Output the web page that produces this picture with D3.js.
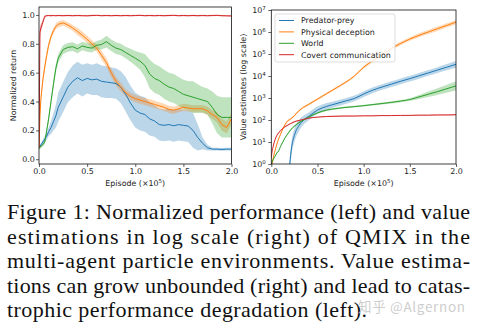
<!DOCTYPE html>
<html><head><meta charset="utf-8">
<script src="https://cdn.jsdelivr.net/npm/d3@7"></script>
<style>body{margin:0;background:#fff;}svg{display:block;}</style>
</head><body>
<script>
// ---------- DATA ----------
const seriesNames = ["Predator-prey", "Physical deception", "World", "Covert communication"];
const seriesColors = ["#1f77b4", "#ff7f0e", "#2ca02c", "#d62728"];

// Left panel: normalized return
const episodesL = [0,0.01,0.02,0.04,0.06,0.08,0.1,0.125,0.15,0.175,0.2,0.25,0.3,0.35,0.4,0.45,0.5,0.55,0.6,0.65,0.7,0.75,0.8,0.85,0.9,0.95,1.0,1.05,1.1,1.15,1.2,1.25,1.3,1.35,1.4,1.45,1.5,1.55,1.6,1.65,1.7,1.75,1.8,1.85,1.9,1.95,2.0];
const returnPredator = [0.08,0.09,0.10,0.12,0.14,0.16,0.19,0.22,0.26,0.30,0.36,0.43,0.50,0.54,0.565,0.545,0.56,0.55,0.555,0.54,0.535,0.53,0.525,0.50,0.45,0.39,0.34,0.32,0.31,0.28,0.265,0.24,0.235,0.24,0.232,0.24,0.235,0.23,0.20,0.15,0.11,0.08,0.07,0.07,0.068,0.07,0.07];
const spreadPredator = [0.01,0.01,0.01,0.015,0.02,0.025,0.03,0.045,0.06,0.08,0.10,0.105,0.105,0.11,0.11,0.11,0.105,0.105,0.11,0.11,0.11,0.105,0.105,0.11,0.12,0.12,0.12,0.12,0.12,0.115,0.11,0.11,0.11,0.11,0.11,0.11,0.11,0.11,0.12,0.09,0.04,0.02,0.01,0.01,0.01,0.01,0.01];
const returnDeception = [0.08,0.30,0.42,0.55,0.64,0.72,0.79,0.85,0.89,0.92,0.935,0.945,0.93,0.91,0.885,0.86,0.83,0.80,0.77,0.72,0.67,0.60,0.54,0.50,0.46,0.435,0.42,0.41,0.40,0.39,0.38,0.37,0.36,0.345,0.34,0.35,0.36,0.355,0.35,0.35,0.35,0.335,0.31,0.29,0.24,0.22,0.28];
const spreadDeception = [0.01,0.03,0.03,0.03,0.03,0.03,0.025,0.02,0.02,0.02,0.02,0.02,0.02,0.02,0.025,0.025,0.025,0.025,0.025,0.03,0.03,0.03,0.03,0.03,0.025,0.025,0.025,0.025,0.025,0.025,0.025,0.025,0.025,0.025,0.025,0.025,0.025,0.025,0.025,0.025,0.025,0.03,0.03,0.035,0.04,0.04,0.04];
const returnWorld = [0.08,0.08,0.09,0.10,0.12,0.20,0.28,0.40,0.52,0.63,0.70,0.76,0.775,0.78,0.765,0.785,0.775,0.77,0.79,0.795,0.815,0.79,0.77,0.76,0.74,0.72,0.70,0.68,0.65,0.59,0.56,0.545,0.52,0.50,0.49,0.47,0.45,0.44,0.43,0.42,0.41,0.40,0.36,0.31,0.29,0.29,0.29];
const spreadWorld = [0.01,0.01,0.01,0.01,0.015,0.02,0.03,0.03,0.03,0.03,0.03,0.03,0.03,0.03,0.03,0.03,0.03,0.03,0.03,0.035,0.04,0.04,0.04,0.04,0.04,0.045,0.05,0.06,0.08,0.10,0.10,0.10,0.10,0.10,0.10,0.10,0.10,0.10,0.11,0.10,0.09,0.09,0.11,0.13,0.14,0.14,0.14];
const returnCovert = [0.08,0.88,0.91,0.95,0.99,0.995,0.996,0.995,0.996,0.995,0.996,0.995,0.996,0.995,0.996,0.995,0.994,0.996,0.997,0.995,0.996,0.995,0.996,0.995,0.996,0.995,0.996,0.997,0.995,0.996,0.995,0.996,0.995,0.996,0.997,0.995,0.996,0.995,0.996,0.995,0.996,0.995,0.996,0.997,0.995,0.994,0.993];
const spreadCovert = [0.01,0.04,0.03,0.02,0.01,0.005,0.005,0.005,0.005,0.005,0.005,0.005,0.005,0.005,0.005,0.005,0.005,0.005,0.005,0.005,0.005,0.005,0.005,0.005,0.005,0.005,0.005,0.005,0.005,0.005,0.005,0.005,0.005,0.005,0.005,0.005,0.005,0.005,0.005,0.005,0.005,0.005,0.005,0.005,0.005,0.005,0.005];

// Right panel: value estimates, stored as log10 exponents
const episodesR = [0,0.01,0.02,0.04,0.06,0.08,0.1,0.125,0.15,0.175,0.2,0.21,0.22,0.25,0.3,0.35,0.4,0.5,0.6,0.7,0.8,0.9,1.0,1.1,1.2,1.3,1.4,1.5,1.6,1.7,1.8,1.9,2.0];
const logValPredator = [null,null,null,null,null,null,null,null,null,null,0.0,0.4,0.75,1.3,1.75,2.0,2.15,2.45,2.62,2.74,2.86,2.98,3.18,3.36,3.5,3.63,3.76,3.88,4.01,4.14,4.27,4.4,4.53];
const logSpreadPredator = [0,0,0,0,0,0,0,0,0,0,0.3,0.3,0.3,0.3,0.25,0.2,0.18,0.16,0.15,0.14,0.13,0.13,0.13,0.13,0.13,0.13,0.13,0.13,0.13,0.13,0.13,0.14,0.15];
const logValDeception = [null,0.0,0.25,0.6,0.9,1.15,1.35,1.6,1.8,1.95,2.02,2.05,2.08,2.2,2.42,2.58,2.7,2.95,3.2,3.45,3.7,4.0,4.4,4.7,4.98,5.25,5.48,5.68,5.85,6.0,6.15,6.3,6.45];
const logSpreadDeception = [0,0.05,0.05,0.05,0.05,0.05,0.05,0.05,0.05,0.05,0.05,0.05,0.05,0.05,0.05,0.05,0.05,0.05,0.05,0.05,0.05,0.05,0.06,0.07,0.07,0.08,0.08,0.08,0.09,0.09,0.1,0.1,0.1];
const logValWorld = [0.0,0.1,0.2,0.35,0.5,0.6,0.8,1.0,1.2,1.35,1.5,1.55,1.6,1.72,1.88,2.0,2.12,2.32,2.45,2.52,2.57,2.61,2.65,2.7,2.75,2.8,2.86,2.93,3.05,3.17,3.29,3.42,3.55];
const logSpreadWorld = [0.03,0.03,0.03,0.03,0.03,0.03,0.03,0.03,0.04,0.04,0.04,0.04,0.04,0.04,0.04,0.04,0.04,0.04,0.04,0.04,0.04,0.04,0.04,0.04,0.04,0.05,0.05,0.06,0.09,0.12,0.15,0.18,0.21];
const logValCovert = [0.3,0.6,0.8,1.1,1.3,1.42,1.52,1.62,1.7,1.76,1.82,1.84,1.86,1.92,1.98,2.03,2.08,2.13,2.16,2.17,2.18,2.18,2.19,2.19,2.2,2.2,2.21,2.21,2.22,2.22,2.23,2.23,2.24];
const logSpreadCovert = [0.02,0.03,0.03,0.03,0.03,0.03,0.03,0.03,0.03,0.03,0.03,0.03,0.03,0.03,0.02,0.02,0.02,0.02,0.02,0.02,0.02,0.02,0.02,0.02,0.02,0.02,0.02,0.02,0.02,0.02,0.02,0.02,0.02];

const xTicks = [0, 0.5, 1.0, 1.5, 2.0];
const yTicksLeft = [0, 0.2, 0.4, 0.6, 0.8, 1.0];
const yTickExpRight = [0, 1, 2, 3, 4, 5, 6, 7];
const captionLines = [
  "Figure 1: Normalized performance (left) and value",
  "estimations in log scale (right) of QMIX in the",
  "multi-agent particle environments. Value estima-",
  "tions can grow unbounded (right) and lead to catas-",
  "trophic performance degradation (left)."
];
const watermark = "知乎 @Algernon";

// ---------- DRAW ----------
const W = 478, H = 329;
const svg = d3.select("body").append("svg").attr("width", W).attr("height", H);
const FONT = "DejaVu Sans";
const fs = 7.9;

// Left panel
const L = {x0: 39, x1: 231.5, y0: 7, y1: 164};
const xL = d3.scaleLinear().domain([0, 2]).range([L.x0, L.x1]);
const yL = d3.scaleLinear().domain([-0.033, 1.055]).range([L.y1, L.y0]);

const leftSeries = [
  [returnPredator, spreadPredator],
  [returnDeception, spreadDeception],
  [returnWorld, spreadWorld],
  [returnCovert, spreadCovert]
];
const gL = svg.append("g");
gL.append("defs").append("clipPath").attr("id", "clipL").append("rect")
  .attr("x", L.x0).attr("y", L.y0).attr("width", L.x1 - L.x0).attr("height", L.y1 - L.y0);
const plotL = gL.append("g").attr("clip-path", "url(#clipL)");
leftSeries.forEach(([m, s], i) => {
  const pts = episodesL.map((x, k) => ({x, m: m[k], s: s[k]}));
  plotL.append("path").datum(pts)
    .attr("d", d3.area().x(d => xL(d.x)).y0(d => yL(d.m - d.s)).y1(d => yL(d.m + d.s)))
    .attr("fill", seriesColors[i]).attr("fill-opacity", 0.3);
});
leftSeries.forEach(([m, s], i) => {
  const pts = episodesL.map((x, k) => ({x, m: m[k]}));
  plotL.append("path").datum(pts)
    .attr("d", d3.line().x(d => xL(d.x)).y(d => yL(d.m)))
    .attr("fill", "none").attr("stroke", seriesColors[i]).attr("stroke-width", 1);
});
const axL = gL.append("g").attr("transform", `translate(0,${L.y1})`)
  .call(d3.axisBottom(xL).tickValues(xTicks).tickFormat(d3.format(".1f")).tickSize(3).tickPadding(1.2));
const ayL = gL.append("g").attr("transform", `translate(${L.x0},0)`)
  .call(d3.axisLeft(yL).tickValues(yTicksLeft).tickFormat(d3.format(".1f")).tickSize(3).tickPadding(1.2));
[axL, ayL].forEach(a => {
  a.select(".domain").remove();
  a.selectAll("text").attr("font-family", FONT).attr("font-size", fs).attr("fill", "#222");
  a.selectAll("line").attr("stroke", "#222").attr("stroke-width", 0.7);
});
gL.append("rect").attr("x", L.x0).attr("y", L.y0).attr("width", L.x1 - L.x0).attr("height", L.y1 - L.y0)
  .attr("fill", "none").attr("stroke", "#111").attr("stroke-width", 0.8);
gL.append("text").attr("transform", `translate(15.5,${(L.y0 + L.y1) / 2}) rotate(-90)`)
  .attr("text-anchor", "middle").attr("font-family", FONT).attr("font-size", fs).attr("fill", "#222")
  .text("Normalized return");
const xlabL = gL.append("text").attr("x", (L.x0 + L.x1) / 2).attr("y", 186)
  .attr("text-anchor", "middle").attr("font-family", FONT).attr("font-size", fs).attr("fill", "#222");
xlabL.append("tspan").text("Episode (×10");
xlabL.append("tspan").attr("font-size", 5.5).attr("dy", -3.2).text("5");
xlabL.append("tspan").attr("dy", 3.2).text(")");

// Right panel
const R = {x0: 271.3, x1: 456, y0: 10, y1: 164};
const xR = d3.scaleLinear().domain([0, 2]).range([R.x0, R.x1]);
const yR = d3.scaleLog().domain([1, 1e7]).range([R.y1, R.y0]);
const rightSeries = [
  [logValPredator, logSpreadPredator],
  [logValDeception, logSpreadDeception],
  [logValWorld, logSpreadWorld],
  [logValCovert, logSpreadCovert]
];
const gR = svg.append("g");
gR.append("defs").append("clipPath").attr("id", "clipR").append("rect")
  .attr("x", R.x0).attr("y", R.y0).attr("width", R.x1 - R.x0).attr("height", R.y1 - R.y0);
const plotR = gR.append("g").attr("clip-path", "url(#clipR)");
const yv = e => yR(Math.pow(10, e));
rightSeries.forEach(([m, s], i) => {
  const pts = episodesR.map((x, k) => ({x, m: m[k], s: s[k]})).filter(d => d.m !== null);
  plotR.append("path").datum(pts)
    .attr("d", d3.area().curve(d3.curveMonotoneX).x(d => xR(d.x)).y0(d => yv(d.m - d.s)).y1(d => yv(d.m + d.s)))
    .attr("fill", seriesColors[i]).attr("fill-opacity", 0.3);
});
rightSeries.forEach(([m, s], i) => {
  const pts = episodesR.map((x, k) => ({x, m: m[k]})).filter(d => d.m !== null);
  plotR.append("path").datum(pts)
    .attr("d", d3.line().curve(d3.curveMonotoneX).x(d => xR(d.x)).y(d => yv(d.m)))
    .attr("fill", "none").attr("stroke", seriesColors[i]).attr("stroke-width", 1);
});
const axR = gR.append("g").attr("transform", `translate(0,${R.y1})`)
  .call(d3.axisBottom(xR).tickValues(xTicks).tickFormat(d3.format(".1f")).tickSize(3).tickPadding(1.2));
const ayR = gR.append("g").attr("transform", `translate(${R.x0},0)`)
  .call(d3.axisLeft(yR).tickValues(yTickExpRight.map(e => Math.pow(10, e))).tickFormat(() => "").tickSize(3));
[axR, ayR].forEach(a => {
  a.select(".domain").remove();
  a.selectAll("text").attr("font-family", FONT).attr("font-size", fs).attr("fill", "#222");
  a.selectAll("line").attr("stroke", "#222").attr("stroke-width", 0.7);
});
yTickExpRight.forEach(e => {
  const t = gR.append("text").attr("x", R.x0 - 5.5).attr("y", yR(Math.pow(10, e)) + 3)
    .attr("text-anchor", "end").attr("font-family", FONT).attr("font-size", fs).attr("fill", "#222");
  t.append("tspan").text("10");
  t.append("tspan").attr("font-size", 5.5).attr("dy", -3.4).text(String(e));
});
gR.append("rect").attr("x", R.x0).attr("y", R.y0).attr("width", R.x1 - R.x0).attr("height", R.y1 - R.y0)
  .attr("fill", "none").attr("stroke", "#111").attr("stroke-width", 0.8);
gR.append("text").attr("transform", `translate(246,${(R.y0 + R.y1) / 2}) rotate(-90)`)
  .attr("text-anchor", "middle").attr("font-family", FONT).attr("font-size", fs).attr("fill", "#222")
  .text("Value estimates (log scale)");
const xlabR = gR.append("text").attr("x", (R.x0 + R.x1) / 2).attr("y", 186)
  .attr("text-anchor", "middle").attr("font-family", FONT).attr("font-size", fs).attr("fill", "#222");
xlabR.append("tspan").text("Episode (×10");
xlabR.append("tspan").attr("font-size", 5.5).attr("dy", -3.2).text("5");
xlabR.append("tspan").attr("dy", 3.2).text(")");

// Legend
const leg = gR.append("g");
leg.append("rect").attr("x", 275).attr("y", 14).attr("width", 120).attr("height", 48).attr("rx", 2)
  .attr("fill", "#fff").attr("fill-opacity", 0.85).attr("stroke", "#d0d0d0").attr("stroke-width", 0.7);
seriesNames.forEach((n, i) => {
  const y = 20.5 + i * 11.4;
  leg.append("line").attr("x1", 279).attr("x2", 294).attr("y1", y).attr("y2", y)
    .attr("stroke", seriesColors[i]).attr("stroke-width", 1);
  leg.append("text").attr("x", 301).attr("y", y + 2.8).attr("font-family", FONT).attr("font-size", fs)
    .attr("fill", "#222").text(n);
});

// Caption
const capY = [219, 243.5, 268, 292.5, 317];
captionLines.forEach((line, i) => {
  const t = svg.append("text").attr("x", 7).attr("y", capY[i])
    .style("font-family", `"Liberation Serif", "Times New Roman", serif`)
    .attr("font-size", 22).attr("fill", "#111").text(line);
  t.attr("textLength", i < captionLines.length - 1 ? 463 : 360).attr("lengthAdjust", "spacing");
});
svg.append("text").attr("x", 358).attr("y", 312).attr("font-family", "Noto Sans CJK SC")
  .attr("font-size", 13.5).attr("fill", "#c4c4c4").attr("fill-opacity", 0.85)
  .attr("textLength", 107).attr("lengthAdjust", "spacing").text(watermark);
</script>
</body></html>
